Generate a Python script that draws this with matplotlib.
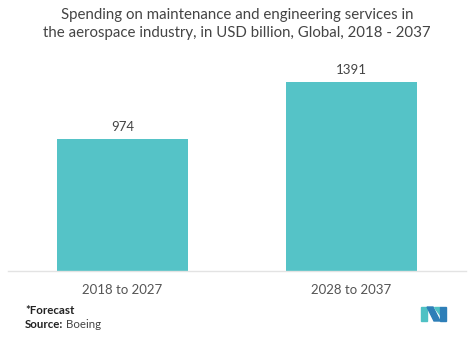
import matplotlib
matplotlib.use("Agg")
import matplotlib.pyplot as plt
from matplotlib.patches import Polygon

categories = ["2018 to 2027", "2028 to 2037"]
values = [974, 1391]
title = "Spending on maintenance and engineering services in\nthe aerospace industry, in USD billion, Global, 2018 - 2037"

BAR = "#55C3C7"
TXT = "#444444"

fig = plt.figure(figsize=(4.74, 3.38), dpi=100)
ax = fig.add_axes([8/474, 67/338, 458/474, 211/338])
x = list(range(len(categories)))
bars = ax.bar(x, values, width=0.57, color=BAR)
for xi, v in zip(x, values):
    ax.text(xi, v + 45, f"{v}", ha="center", va="bottom", fontsize=9.5, color=TXT, family="Lato")
ax.set_xlim(-0.5, 1.5)
ax.set_ylim(0, 1557)
for s in ["top", "right", "left"]:
    ax.spines[s].set_visible(False)
ax.spines["bottom"].set_color("#e3e3e3")
ax.spines["bottom"].set_linewidth(1)
ax.set_yticks([])
ax.set_xticks(x)
ax.set_xticklabels(categories, fontsize=9.5, color="#555555", family="Lato")
ax.tick_params(axis="x", length=0, pad=9)

fig.text(0.5, 1 - 24/338, title, ha="center", va="center", fontsize=10.8,
         color=TXT, family="Lato", linespacing=1.4)
fig.text(25/474, 1 - 311/338, "*Forecast", ha="left", va="center", fontsize=8.3,
         color="#222222", family="Lato", weight="bold")
src = fig.text(25/474, 1 - 325/338, "Source:", ha="left", va="center", fontsize=8.3,
               color="#222222", family="Lato", weight="bold")
fig.canvas.draw()
bb = src.get_window_extent(renderer=fig.canvas.get_renderer())
fig.text((bb.x1 + 3)/474, 1 - 325/338, "Boeing", ha="left", va="center", fontsize=8.3,
         color="#444444", family="Lato")

# logo
def P(pts, c):
    fig.patches.append(Polygon([(px/474, 1 - py/338) for px, py in pts], closed=True,
                               transform=fig.transFigure, color=c, figure=fig))
P([(421, 307), (427, 307), (427, 321), (421, 321)], "#4FC1C4")
P([(427, 307), (433, 307), (440, 321), (434, 321)], "#2E7FB8")
P([(434, 307), (440, 307), (440, 315)], "#4FC1C4")
P([(440, 307), (446, 307), (446, 321), (440, 321)], "#2E7FB8")

fig.savefig("out.png", dpi=100)
